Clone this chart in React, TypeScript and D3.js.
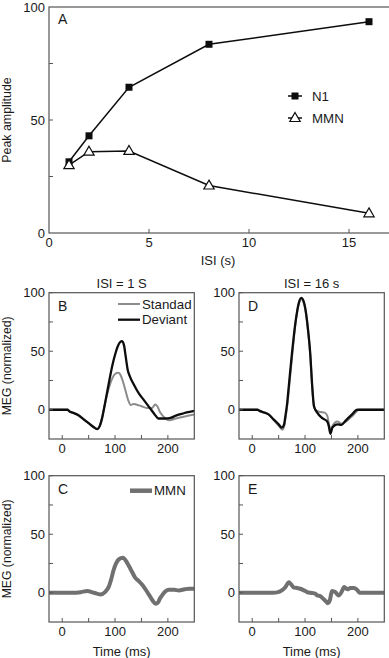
import React from 'react';
import * as d3 from 'd3';

// Panel A: peak amplitude vs ISI
const isiValues = [1, 2, 4, 8, 16];
const n1Peak = [31.5, 43, 64.5, 83.5, 93.5];
const mmnPeak = [30, 36, 36.3, 21, 8.7];

type Pt = [number, number];

// ISI = 1 s waveforms (time ms, normalized MEG)
const isi1Standard: Pt[] = [
  [-25, 0], [10, 0], [14, -1.5], [20, -2.5], [30, -4.5], [40, -8], [50, -11.5], [60, -15], [66, -16.5],
  [71, -14], [75, -8], [80, 3], [85, 13], [90, 21], [95, 27], [100, 30.5], [106, 31.5], [110, 30],
  [115, 24], [120, 16], [125, 8], [130, 4], [135, 5], [140, 4.5], [150, 3], [160, 1.5], [170, 1.5],
  [176, 4.5], [180, 3], [185, -2], [190, -5], [197, -8], [203, -9], [215, -7.5], [230, -6], [250, -4],
];
const isi1Deviant: Pt[] = [
  [-25, 0], [10, 0], [14, -1.5], [20, -2.5], [30, -4.5], [40, -8], [50, -11.5], [60, -15], [66, -16.5],
  [71, -14], [75, -8], [80, 3], [85, 15], [90, 27], [95, 38], [100, 47], [105, 54], [110, 58],
  [113, 58.5], [117, 55], [120, 46], [124, 34], [128, 28.5], [135, 22], [145, 14], [155, 8], [165, 2],
  [175, -4], [182, -7.5], [195, -7.5], [205, -7], [215, -5], [230, -3], [250, -1],
];

// ISI = 16 s waveforms
const isi16Standard: Pt[] = [
  [-25, 0], [10, 0], [14, -1], [20, -2], [31, -4], [40, -8.5], [50, -13.5], [57, -17], [61, -13],
  [64, -4], [67, 6], [70, 20], [76, 48], [82, 74], [88, 90], [93, 94.5], [99, 89], [106, 66],
  [110, 46], [113, 23], [117, 2], [123, -1], [130, -2], [137, -2.5], [142, -5], [146, -14],
  [149, -17], [153, -13], [161, -10], [169, -12], [176, -10.5], [189, -5.5], [203, 0], [250, 0],
];
const isi16Deviant: Pt[] = [
  [-25, 0], [10, 0], [14, -1], [20, -2], [31, -4], [40, -8], [50, -12.5], [56, -15.3], [60, -13],
  [63, -5], [66, 5], [69, 19], [75, 47], [82, 75], [88, 91], [93, 95.5], [99, 90], [106, 67],
  [110, 47], [113, 24], [117, 3], [123, -2.5], [132, -7], [142, -10], [145, -14], [148, -20.5],
  [152, -15], [161, -12.5], [169, -13], [176, -9.7], [189, -4], [199, 0], [250, 0],
];

// MMN difference waves
const mmnIsi1: Pt[] = [
  [-25, 0], [20, 0], [35, 0.5], [47, 1.4], [60, 0], [72, -1.4], [82, 1], [88, 5], [93, 12], [97, 19],
  [102, 25], [107, 28.5], [115, 30], [121, 27], [126, 23], [132, 18], [138, 13], [145, 10], [151, 7],
  [156, 4], [161, 0.6], [166, -3], [171, -6.6], [177, -9.4], [181, -8.5], [185, -5], [189, -2.3],
  [195, 1], [202, 2.6], [212, 2.5], [221, 2], [232, 3], [240, 3.4], [250, 3.4],
];
const mmnIsi16: Pt[] = [
  [-25, 0], [40, 0], [47, 0.3], [56, 2], [63, 5], [69, 9], [74, 7], [78, 4.6], [85, 4], [91, 3.4],
  [98, 2], [104, 0.6], [110, 0], [116, -0.3], [120, -1], [123, -2.3], [129, -3], [135, -5.4],
  [140, -7.5], [143, -8.9], [147, -6.3], [151, 1.4], [154, 1.2], [157, 0.6], [164, -2.3], [170, 1.4],
  [174, 4.9], [180, 2.9], [186, 4], [192, 4], [196, 3.5], [199, 2.3], [203, 0], [250, 0],
];

const isiTicks = [0, 5, 10, 15];
const peakTicks = [0, 50, 100];
const timeTicks = [0, 100, 200];
const timeMinor = [50, 150];
const megTicks = [0, 50, 100];
const megMinor = [25, 75];

const FONT = '"Liberation Sans", Arial, Helvetica, sans-serif';
const FRAME = '#555';
const TEXT = '#1a1a1a';

type Box = { left: number; top: number; width: number; height: number };

type Trace = { data: Pt[]; color: string; width: number };

function Waveform({ box, letter, title, traces, showX, legend, id }: {
  box: Box; letter: string; title?: string; traces: Trace[]; showX: boolean;
  legend?: { label: string; color: string; width: number }[]; id: string;
}) {
  const x = d3.scaleLinear().domain([-25, 250]).range([box.left, box.left + box.width]);
  const y = d3.scaleLinear().domain([-25, 100]).range([box.top + box.height, box.top]);
  const line = d3.line<Pt>().x((d) => x(d[0])).y((d) => y(d[1])).curve(d3.curveMonotoneX);
  const bottom = box.top + box.height;

  return (
    <g>
      <defs>
        <clipPath id={id}>
          <rect x={box.left} y={box.top} width={box.width} height={box.height} />
        </clipPath>
      </defs>
      <g clipPath={`url(#${id})`}>
        {traces.map((t, i) => (
          <path key={i} d={line(t.data) ?? ''} fill="none" stroke={t.color} strokeWidth={t.width}
            strokeLinejoin="round" strokeLinecap="round" />
        ))}
      </g>
      <rect x={box.left} y={box.top} width={box.width} height={box.height} fill="none" stroke={FRAME} strokeWidth={1.2} />
      {[...timeTicks, ...timeMinor].map((t) => (
        <line key={t} x1={x(t)} x2={x(t)} y1={bottom} y2={bottom - 4} stroke={FRAME} strokeWidth={1} />
      ))}
      {[...megTicks, ...megMinor].map((v) => (
        <line key={v} x1={box.left} x2={box.left + 4} y1={y(v)} y2={y(v)} stroke={FRAME} strokeWidth={1} />
      ))}
      {timeTicks.map((t) => (
        <text key={t} x={x(t)} y={bottom + 14} textAnchor="middle" fontSize={13} fill={TEXT}>{t}</text>
      ))}
      {megTicks.map((v) => (
        <text key={v} x={box.left - 4} y={y(v)} textAnchor="end" dominantBaseline="central" fontSize={13} fill={TEXT}>{v}</text>
      ))}
      <text x={box.left + 9} y={box.top + 18} fontSize={14} fill={TEXT}>{letter}</text>
      {title && (
        <text x={box.left + box.width / 2} y={box.top - 4.5} textAnchor="middle" fontSize={13} fill={TEXT}>{title}</text>
      )}
      {showX && (
        <text x={box.left + box.width / 2} y={bottom + 34} textAnchor="middle" fontSize={13} fill={TEXT}>Time (ms)</text>
      )}
      {legend && legend.map((l, i) => {
        const ly = box.top + (legend.length === 1 ? 15 : 11.3 + i * 15.7);
        const lx = legend.length === 1 ? box.left + 81 : box.left + 69;
        return (
          <g key={l.label}>
            <line x1={lx} x2={lx + 22} y1={ly} y2={ly} stroke={l.color} strokeWidth={l.width} />
            <text x={lx + 24} y={ly} dominantBaseline="central" fontSize={13.3} fill={TEXT}>{l.label}</text>
          </g>
        );
      })}
    </g>
  );
}

export default function App() {
  const boxA: Box = { left: 49, top: 7, width: 341, height: 226 };
  const xA = d3.scaleLinear().domain([0, 17.05]).range([boxA.left, boxA.left + boxA.width]);
  const yA = d3.scaleLinear().domain([0, 100]).range([boxA.top + boxA.height, boxA.top]);
  const lineA = d3.line<number>().x((_, i) => xA(isiValues[i])).y((d) => yA(d));
  const n1Pts = n1Peak.map((v, i) => [isiValues[i], v] as Pt);
  const mmnPts = mmnPeak.map((v, i) => [isiValues[i], v] as Pt);
  const tri = d3.symbol(d3.symbolTriangle, 46)();
  const bottomA = boxA.top + boxA.height;

  const w = 145.3;
  const h = 146.3;
  const boxB: Box = { left: 49, top: 292.7, width: w, height: h };
  const boxD: Box = { left: 239, top: 292.7, width: w, height: h };
  const boxC: Box = { left: 49, top: 475.7, width: w, height: h };
  const boxE: Box = { left: 239, top: 475.7, width: w, height: h };

  const gray = '#8c8c8c';
  const black = '#0d0d0d';
  const mmnGray = '#707070';

  return (
    <svg width={389} height={658} style={{ position: 'absolute', left: 0, top: 0, background: '#fff' }}
      fontFamily={FONT}>
      {/* Panel A */}
      <rect x={boxA.left} y={boxA.top} width={boxA.width} height={boxA.height} fill="none" stroke={FRAME} strokeWidth={1.2} />
      {isiTicks.filter((t) => t > 0).map((t) => (
        <line key={t} x1={xA(t)} x2={xA(t)} y1={bottomA} y2={bottomA - 4} stroke={FRAME} />
      ))}
      {[25, 50, 75].map((v) => (
        <line key={v} x1={boxA.left} x2={boxA.left + 4} y1={yA(v)} y2={yA(v)} stroke={FRAME} />
      ))}
      {isiTicks.map((t) => (
        <text key={t} x={xA(t)} y={bottomA + 14} textAnchor="middle" fontSize={13} fill={TEXT}>{t}</text>
      ))}
      {peakTicks.map((v) => (
        <text key={v} x={boxA.left - 4} y={yA(v)} textAnchor="end" dominantBaseline="central" fontSize={13} fill={TEXT}>{v}</text>
      ))}
      <text x={218} y={bottomA + 32} textAnchor="middle" fontSize={13} fill={TEXT}>ISI (s)</text>
      <text transform={`translate(11,${(boxA.top + bottomA) / 2}) rotate(-90)`} textAnchor="middle" fontSize={12.4} fill={TEXT}>Peak amplitude</text>
      <text x={boxA.left + 9} y={boxA.top + 17} fontSize={14} fill={TEXT}>A</text>

      <path d={lineA(n1Peak) ?? ''} fill="none" stroke={black} strokeWidth={1.5} />
      <path d={lineA(mmnPeak) ?? ''} fill="none" stroke={black} strokeWidth={1.5} />
      {n1Pts.map((p, i) => (
        <rect key={i} x={xA(p[0]) - 3.5} y={yA(p[1]) - 3.5} width={7} height={7} fill={black} />
      ))}
      {mmnPts.map((p, i) => (
        <path key={i} d={tri ?? ''} transform={`translate(${xA(p[0])},${yA(p[1]) + 0.5})`} fill="#fff" stroke={black} strokeWidth={1.2} />
      ))}
      {/* legend A */}
      <line x1={288} x2={302} y1={96} y2={96} stroke={black} strokeWidth={1.5} />
      <rect x={291.5} y={92.5} width={7} height={7} fill={black} />
      <text x={312} y={96} dominantBaseline="central" fontSize={13.3} fill={TEXT}>N1</text>
      <line x1={288} x2={302} y1={118} y2={118} stroke={black} strokeWidth={1.5} />
      <path d={tri ?? ''} transform="translate(295,118.5)" fill="#fff" stroke={black} strokeWidth={1.2} />
      <text x={312} y={118} dominantBaseline="central" fontSize={13.3} fill={TEXT}>MMN</text>

      {/* Lower panels */}
      <Waveform id="clipB" box={boxB} letter="B" title="ISI = 1 S" showX={false}
        traces={[{ data: isi1Standard, color: gray, width: 2 }, { data: isi1Deviant, color: black, width: 2.3 }]}
        legend={[{ label: 'Standad', color: gray, width: 2 }, { label: 'Deviant', color: black, width: 2.3 }]} />
      <Waveform id="clipD" box={boxD} letter="D" title="ISI = 16 s" showX={false}
        traces={[{ data: isi16Standard, color: gray, width: 2 }, { data: isi16Deviant, color: black, width: 2.3 }]} />
      <Waveform id="clipC" box={boxC} letter="C" showX
        traces={[{ data: mmnIsi1, color: mmnGray, width: 4 }]}
        legend={[{ label: 'MMN', color: mmnGray, width: 4.5 }]} />
      <Waveform id="clipE" box={boxE} letter="E" showX
        traces={[{ data: mmnIsi16, color: mmnGray, width: 4 }]} />

      <text transform={`translate(11,${boxB.top + h / 2}) rotate(-90)`} textAnchor="middle" fontSize={12.2} fill={TEXT}>MEG (normalized)</text>
      <text transform={`translate(11,${boxC.top + h / 2}) rotate(-90)`} textAnchor="middle" fontSize={12.2} fill={TEXT}>MEG (normalized)</text>
    </svg>
  );
}
